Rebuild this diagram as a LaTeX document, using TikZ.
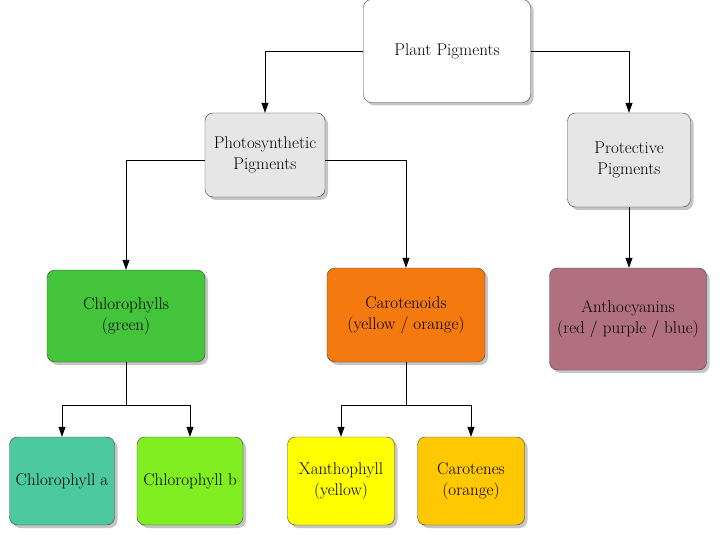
\documentclass[tikz,border=0pt]{standalone}
\usetikzlibrary{shadows,arrows.meta}
\definecolor{cgreen}{HTML}{44C43A}
\definecolor{corange}{HTML}{F47A10}
\definecolor{cantho}{HTML}{B07080}
\definecolor{ca}{HTML}{4DC9A0}
\definecolor{cb}{HTML}{80EE20}
\definecolor{cx}{HTML}{FFFF00}
\definecolor{cc}{HTML}{FFC800}
\definecolor{cgrey}{HTML}{E6E6E6}
\begin{document}
\begin{tikzpicture}[x=1pt,y=-1pt,
  box/.style={draw=black!75,rounded corners=8pt,align=center,font=\fontsize{17}{21}\selectfont,
    drop shadow={shadow xshift=3pt,shadow yshift=-3pt,fill=black!45},inner sep=0pt},
  con/.style={draw=black,line width=0.8pt},
  arr/.style={con,-{Triangle[length=10pt,width=7pt]}}]
\useasboundingbox (0,0) rectangle (720,540);
\fill[white] (0,0) rectangle (720,540);
\node[box,fill=white,minimum width=167pt,minimum height=103pt] (pp) at (447,51) {Plant Pigments};
\node[box,fill=cgrey,minimum width=120pt,minimum height=84pt] (ps) at (265,155) {Photosynthetic\\Pigments};
\node[box,fill=cgrey,minimum width=123pt,minimum height=94pt] (pr) at (629,160) {Protective\\Pigments};
\node[box,fill=cgreen,minimum width=158pt,minimum height=92pt] (ch) at (126,316) {Chlorophylls\\(green)};
\node[box,fill=corange,minimum width=158pt,minimum height=94pt] (ct) at (406,315) {Carotenoids\\(yellow / orange)};
\node[box,fill=cantho,minimum width=157pt,minimum height=102pt] (an) at (628,319) {Anthocyanins\\(red / purple / blue)};
\node[box,fill=ca,minimum width=105pt,minimum height=88pt] (cha) at (62,481) {Chlorophyll a};
\node[box,fill=cb,minimum width=106pt,minimum height=88pt] (chb) at (190,481) {Chlorophyll b};
\node[box,fill=cx,minimum width=107pt,minimum height=88pt] (xa) at (341,481) {Xanthophyll\\(yellow)};
\node[box,fill=cc,minimum width=107pt,minimum height=88pt] (cr) at (471,481) {Carotenes\\(orange)};
\draw[arr] (pp.west) -| (ps.north);
\draw[arr] (pp.east) -| (pr.north);
\draw[arr] (ps.west |- 0,160) -| (ch.north);
\draw[arr] (ps.east |- 0,160) -| (ct.north);
\draw[arr] (pr.south) -- (an.north -| pr.south);
\coordinate (j1) at (126,405);
\coordinate (j2) at (406,405);
\draw[con] (ch.south) -- (j1);
\draw[arr] (j1) -| (cha.north);
\draw[arr] (j1) -| (chb.north);
\draw[con] (ct.south) -- (j2);
\draw[arr] (j2) -| (xa.north);
\draw[arr] (j2) -| (cr.north);
\end{tikzpicture}
\end{document}
